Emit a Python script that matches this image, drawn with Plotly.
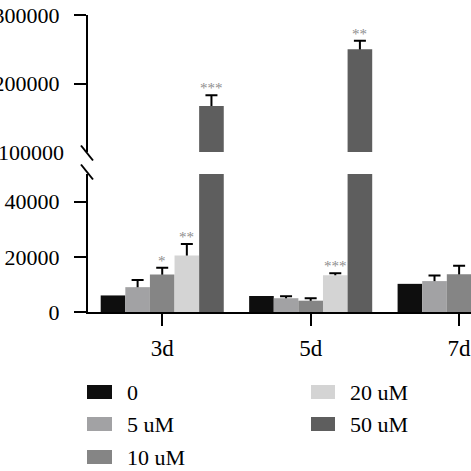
import plotly.graph_objects as go

days = ['3d', '5d', '7d']
doses = ['0', '5 uM', '10 uM', '20 uM', '50 uM']
colors = ['#0e0e0e', '#a2a2a4', '#858585', '#d4d4d4', '#5e5e5e']

# means per dose over 3d / 5d / 7d (7d 20 and 50 uM are cut off in the source)
mean_0 = [6000, 5800, 10200]
mean_5 = [9000, 5000, 11200]
mean_10 = [13600, 4100, 13700]
mean_20 = [20500, 13300, None]
mean_50 = [167000, 250000, None]

err_0 = [0, 0, 0]
err_5 = [2600, 700, 2000]
err_10 = [2400, 850, 3100]
err_20 = [4100, 700, None]
err_50 = [16000, 12500, None]

sig_0 = ['', '', '']
sig_5 = ['', '', '']
sig_10 = ['*', '', '']
sig_20 = ['**', '***', '']
sig_50 = ['***', '**', '']

means = [mean_0, mean_5, mean_10, mean_20, mean_50]
errs = [err_0, err_5, err_10, err_20, err_50]
sigs = [sig_0, sig_5, sig_10, sig_20, sig_50]

low_range = [0, 50000]
high_range = [100000, 300000]
low_ticks = [0, 20000, 40000]
high_ticks = [200000, 300000]

FONT = 'Liberation Serif'

# the page's body margin is removed in post_script, so figure starts at 0,0
W, H = 471, 471
L, T, B = 88, 15, 159
PW, PH = W - L, H - T - B
XR = [-0.5, 2.08]
BARGAP = 0.171
slot = PW / (XR[1] - XR[0]) * (1 - BARGAP) / len(doses)

def px(X):
  return (X - L) / PW
def py(Y):
  return (H - B - Y) / PH

low_top = py(174)
high_bot = py(152)

fig = go.Figure()
annotations = []
panels = [('x', 'y', low_range), ('x2', 'y2', high_range)]
for xa, ya, rng in panels:
  for i, name in enumerate(doses):
    # error bar drawn first so the bar hides its lower half (upper-only bars)
    if i > 0:
      fig.add_trace(go.Bar(
        x=days, y=means[i], xaxis=xa, yaxis=ya, offsetgroup=str(i),
        marker=dict(color='rgba(0,0,0,0)', line=dict(width=0)),
        error_y=dict(type='data', array=errs[i], color='black',
                     thickness=2, width=6),
        showlegend=False, hoverinfo='skip',
      ))
    fig.add_trace(go.Bar(
      x=days, y=means[i], xaxis=xa, yaxis=ya, offsetgroup=str(i),
      marker=dict(color=colors[i], line=dict(width=0)),
      showlegend=False, hoverinfo='skip',
    ))
    for d, m, e, s in zip(days, means[i], errs[i], sigs[i]):
      if not s or m is None:
        continue
      top = m + e
      if rng[0] <= top <= rng[1]:
        annotations.append(dict(
          xref=xa, yref=ya, x=d, y=top, text=s, showarrow=False,
          xanchor='center', yanchor='bottom',
          xshift=(i - (len(doses) - 1) / 2) * slot, yshift=-3,
          font=dict(family=FONT, size=15, color='#8e8e8e')))

axis_font = dict(family=FONT, size=22, color='black')

shapes = []
# axis break marks
for yc in (py(153), py(172)):
  shapes.append(dict(type='line', xref='paper', yref='paper',
                     x0=px(81), x1=px(93), y0=yc + 7.5 / PH, y1=yc - 7.5 / PH,
                     line=dict(color='black', width=2)))

annotations.append(dict(xref='paper', yref='y2', x=0, y=100000, text='100000',
                        showarrow=False, xanchor='right', yanchor='middle',
                        xshift=-22, font=axis_font))

# legend drawn in two columns (column-major like the source)
leg_cols = [(87, 112, 125), (311, 335, 348)]
leg_rows = [392, 424, 457]
for i, name in enumerate(doses):
  c0, c1, tx = leg_cols[i // 3]
  ry = leg_rows[i % 3]
  shapes.append(dict(type='rect', xref='paper', yref='paper',
                     x0=px(c0), x1=px(c1), y0=py(ry + 7), y1=py(ry - 7),
                     fillcolor=colors[i], line=dict(width=0)))
  annotations.append(dict(xref='paper', yref='paper', x=px(tx), y=py(ry),
                          text=name, showarrow=False, xanchor='left',
                          yanchor='middle',
                          font=dict(family=FONT, size=22, color='black')))

yaxis_common = dict(showline=True, linecolor='black', linewidth=2,
                    ticks='outside', ticklen=12, tickwidth=2, tickcolor='black',
                    tickfont=axis_font, ticklabelstandoff=10,
                    ticklabeloverflow='allow', automargin=False,
                    showgrid=False, zeroline=False)

fig.update_layout(
  width=W, height=H,
  margin=dict(l=L, r=0, t=T, b=B, pad=0),
  paper_bgcolor='white', plot_bgcolor='white',
  barmode='group', bargap=BARGAP, bargroupgap=0,
  showlegend=False,
  xaxis=dict(type='category', categoryorder='array', categoryarray=days,
             range=XR, anchor='y', showline=True, linecolor='black',
             linewidth=2, ticks='outside', ticklen=12, tickwidth=2,
             tickcolor='black', tickfont=dict(family=FONT, size=23, color='black'),
             ticklabelstandoff=2, ticklabeloverflow='allow', automargin=False,
             showgrid=False, zeroline=False),
  xaxis2=dict(matches='x', anchor='y2', visible=False, showgrid=False,
              automargin=False),
  yaxis=dict(domain=[0, low_top], range=low_range, tickvals=low_ticks,
             ticktext=[str(v) for v in low_ticks], **yaxis_common),
  yaxis2=dict(domain=[high_bot, 1], range=high_range, tickvals=high_ticks,
              ticktext=[str(v) for v in high_ticks], **yaxis_common),
  shapes=shapes,
  annotations=annotations,
)

fig.write_html("out.html",
               config={'displayModeBar': False},
               post_script="document.body.style.margin='0';"
                           "document.body.style.overflow='hidden';")
